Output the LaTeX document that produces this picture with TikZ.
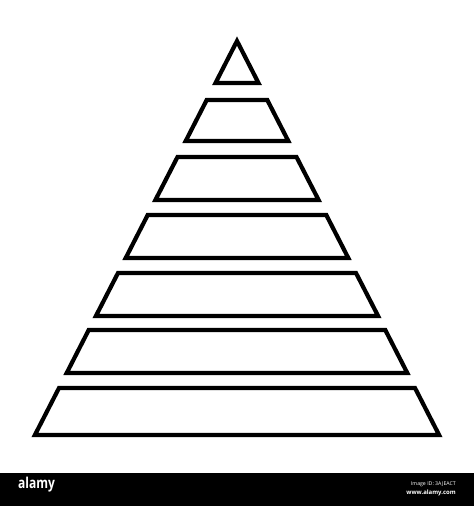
\documentclass[tikz,border=0pt]{standalone}
\usepackage{fontspec}
\setmainfont{Open Sans}
\usepackage{tikz}

\begin{document}
\begin{tikzpicture}[x=1pt,y=-1pt,
		tier/.style={line width=4.2pt,line join=miter},
		logo/.style={text=white,font=\bfseries\fontsize{15}{15}\selectfont,inner sep=0pt},
		imgid/.style={text=white,font=\fontsize{5.2}{6}\selectfont,inner sep=0pt,anchor=east}]
			\useasboundingbox (0,0) rectangle (474,506);
			\fill[white] (0,0) rectangle (474,506);

			\draw[tier] (237,41) -- (258.5,83) -- (215.5,83) -- cycle;
			\draw[tier] (206.7,100) -- (267.3,100) -- (288.3,141) -- (185.7,141) -- cycle;
			\draw[tier] (177.5,157) -- (296.5,157) -- (318.6,200) -- (155.4,200) -- cycle;
			\draw[tier] (147.7,215) -- (326.3,215) -- (348.3,258) -- (125.7,258) -- cycle;
			\draw[tier] (118.0,273) -- (356.0,273) -- (378.1,316) -- (95.9,316) -- cycle;
			\draw[tier] (88.7,330) -- (385.3,330) -- (407.3,373) -- (66.7,373) -- cycle;
			\draw[tier] (59.0,388) -- (415.0,388) -- (439.1,435) -- (34.9,435) -- cycle;

			\fill[black] (0,473) rectangle (474,506);
			\node[logo,anchor=west] (alamy) at (18,485) {\scalebox{0.8}[1]{alamy}};
			\node[imgid] (imageid) at (456,484) {Image ID: 3AJEACT};
			\node[imgid,font=\bfseries\fontsize{6}{6}\selectfont] (website) at (456,493) {www.alamy.com};
		\end{tikzpicture}
\end{document}
